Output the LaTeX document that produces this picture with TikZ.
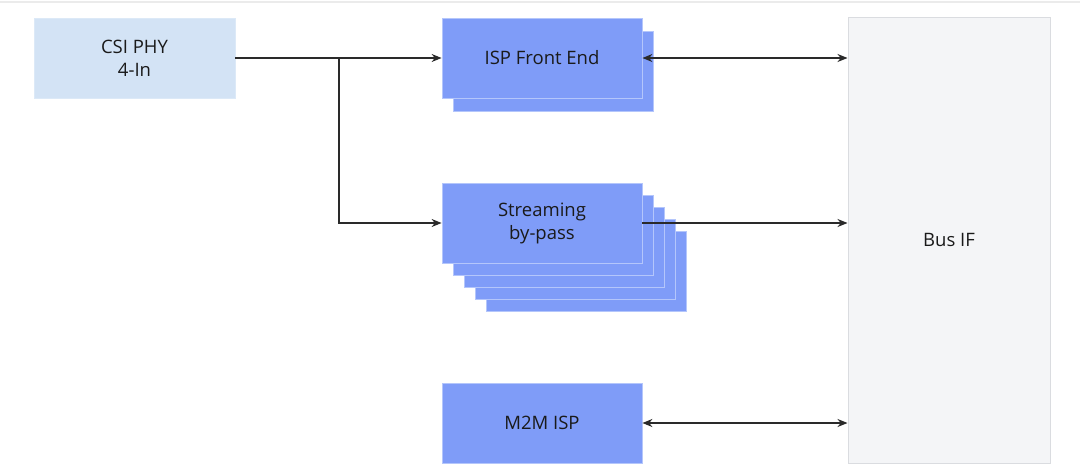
\documentclass[tikz,border=0pt]{standalone}
\usepackage{fontspec}
\setmainfont{Open Sans}
\usetikzlibrary{arrows.meta}
\definecolor{phyfill}{HTML}{D3E3F5}
\definecolor{blk}{HTML}{7F9CF8}
\definecolor{blkedge}{HTML}{B4C6FB}
\definecolor{busfill}{HTML}{F4F5F7}
\definecolor{busedge}{HTML}{DADCE0}
\definecolor{txt}{HTML}{1A1A1A}
\definecolor{wire}{HTML}{2A2A2A}
\begin{document}
\begin{tikzpicture}[x=1pt,y=-1pt,
  lbl/.style={font=\fontsize{18.5}{23}\selectfont, text=txt, align=center},
  blkbox/.style={draw=blkedge, line width=0.8pt, fill=blk},
  wirearrow/.style={draw=wire, line width=1.2pt, -{Stealth[length=10pt,width=8pt]}},
  wirebi/.style={draw=wire, line width=1.2pt, {Stealth[length=10pt,width=8pt]}-{Stealth[length=10pt,width=8pt]}}]
\useasboundingbox (0,0) rectangle (1080,471);
\fill[white] (0,0) rectangle (1080,471);
\draw[draw=black!8, line width=1.5pt] (0,2) -- (1080,2);
% CSI PHY
\node[draw=phyfill!80!white, fill=phyfill, minimum width=201pt, minimum height=80pt, inner sep=0pt, lbl] (phy) at (134.5,58) {CSI PHY\\4-In};
% ISP Front End
\node[blkbox, minimum width=200pt, minimum height=80pt, inner sep=0pt] (fe2) at (553,71) {};
\node[blkbox, minimum width=200pt, minimum height=80pt, inner sep=0pt, lbl] (fe) at (542,58) {ISP Front End};
% Streaming stack
\node[blkbox, minimum width=200pt, minimum height=80pt, inner sep=0pt] (s5) at (586,271) {};
\node[blkbox, minimum width=200pt, minimum height=80pt, inner sep=0pt] (s4) at (575,259) {};
\node[blkbox, minimum width=200pt, minimum height=80pt, inner sep=0pt] (s3) at (564,247) {};
\node[blkbox, minimum width=200pt, minimum height=80pt, inner sep=0pt] (s2) at (553,235) {};
\node[blkbox, minimum width=200pt, minimum height=80pt, inner sep=0pt, lbl] (s1) at (542,223) {Streaming\\by-pass};
% M2M ISP
\node[blkbox, minimum width=200pt, minimum height=80pt, inner sep=0pt, lbl] (m2m) at (542,423) {M2M ISP};
% Bus IF
\node[draw=busedge, fill=busfill, line width=1pt, minimum width=202pt, minimum height=446pt, inner sep=0pt, lbl] (bus) at (949,240) {Bus IF};
% connectors
\coordinate (j) at (339,58);
\draw[wirearrow] (phy.east) -- (fe.west);
\draw[wirearrow] (j) |- (s1.west);
\draw[wirebi] (fe.east) -- (fe.east -| bus.west);
\draw[wirearrow] (s1.east) -- (s1.east -| bus.west);
\draw[wirebi] (m2m.east) -- (m2m.east -| bus.west);
\end{tikzpicture}
\end{document}
